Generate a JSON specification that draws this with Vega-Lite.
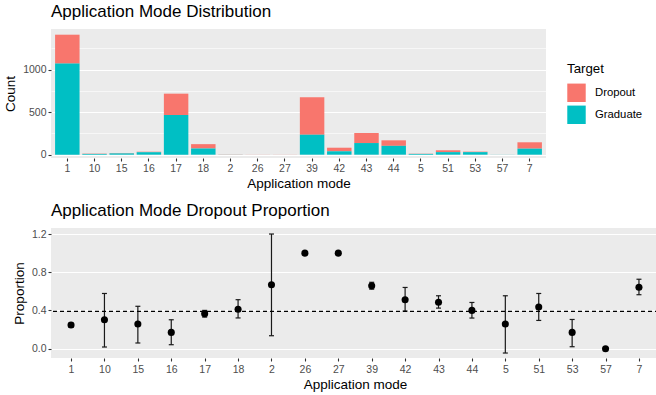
{
  "$schema": "https://vega.github.io/schema/vega-lite/v6.json",
  "padding": {"left": 3, "top": 3, "right": 6, "bottom": 2},
  "background": "white",
  "config": {
    "font": "Liberation Sans",
    "view": {"fill": "#EBEBEB", "stroke": null},
    "axis": {"domain": false, "tickColor": "#333333", "tickSize": 3, "tickWidth": 1.1, "labelColor": "#4D4D4D", "labelFontSize": 10.5, "labelPadding": 2, "titleFontSize": 13.5, "titleFontWeight": "normal", "titleColor": "#000000", "gridColor": "#FFFFFF", "gridWidth": 1.2},
    "title": {"fontSize": 17, "fontWeight": "normal", "color": "#000000", "anchor": "start", "frame": "group", "offset": 8}
  },
  "spacing": 12,
  "resolve": {"scale": {"color": "independent"}, "legend": {"color": "independent"}},
  "datasets": {
    "counts": [
      {"mode": "1", "Target": "Dropout", "count": 340}, {"mode": "1", "Target": "Graduate", "count": 1072},
      {"mode": "10", "Target": "Dropout", "count": 4}, {"mode": "10", "Target": "Graduate", "count": 9},
      {"mode": "15", "Target": "Dropout", "count": 5}, {"mode": "15", "Target": "Graduate", "count": 15},
      {"mode": "16", "Target": "Dropout", "count": 6}, {"mode": "16", "Target": "Graduate", "count": 29},
      {"mode": "17", "Target": "Dropout", "count": 251}, {"mode": "17", "Target": "Graduate", "count": 467},
      {"mode": "18", "Target": "Dropout", "count": 51}, {"mode": "18", "Target": "Graduate", "count": 73},
      {"mode": "2", "Target": "Dropout", "count": 2}, {"mode": "2", "Target": "Graduate", "count": 1},
      {"mode": "26", "Target": "Dropout", "count": 1}, {"mode": "26", "Target": "Graduate", "count": 0},
      {"mode": "27", "Target": "Dropout", "count": 1}, {"mode": "27", "Target": "Graduate", "count": 0},
      {"mode": "39", "Target": "Dropout", "count": 440}, {"mode": "39", "Target": "Graduate", "count": 235},
      {"mode": "42", "Target": "Dropout", "count": 42}, {"mode": "42", "Target": "Graduate", "count": 40},
      {"mode": "43", "Target": "Dropout", "count": 118}, {"mode": "43", "Target": "Graduate", "count": 137},
      {"mode": "44", "Target": "Dropout", "count": 65}, {"mode": "44", "Target": "Graduate", "count": 104},
      {"mode": "5", "Target": "Dropout", "count": 3}, {"mode": "5", "Target": "Graduate", "count": 9},
      {"mode": "51", "Target": "Dropout", "count": 22}, {"mode": "51", "Target": "Graduate", "count": 30},
      {"mode": "53", "Target": "Dropout", "count": 6}, {"mode": "53", "Target": "Graduate", "count": 30},
      {"mode": "57", "Target": "Dropout", "count": 0}, {"mode": "57", "Target": "Graduate", "count": 1},
      {"mode": "7", "Target": "Dropout", "count": 75}, {"mode": "7", "Target": "Graduate", "count": 71}
    ],
    "props": [
      {"mode": "1", "p": 0.248, "lower": 0.226, "upper": 0.27},
      {"mode": "10", "p": 0.303, "lower": 0.018, "upper": 0.578},
      {"mode": "15", "p": 0.258, "lower": 0.06, "upper": 0.444},
      {"mode": "16", "p": 0.171, "lower": 0.042, "upper": 0.303},
      {"mode": "17", "p": 0.366, "lower": 0.331, "upper": 0.401},
      {"mode": "18", "p": 0.413, "lower": 0.322, "upper": 0.513},
      {"mode": "2", "p": 0.669, "lower": 0.136, "upper": 1.2},
      {"mode": "26", "p": 1.0, "lower": 1.0, "upper": 1.0},
      {"mode": "27", "p": 1.0, "lower": 1.0, "upper": 1.0},
      {"mode": "39", "p": 0.659, "lower": 0.623, "upper": 0.695},
      {"mode": "42", "p": 0.513, "lower": 0.394, "upper": 0.641},
      {"mode": "43", "p": 0.486, "lower": 0.425, "upper": 0.554},
      {"mode": "44", "p": 0.401, "lower": 0.321, "upper": 0.484},
      {"mode": "5", "p": 0.258, "lower": -0.045, "upper": 0.554},
      {"mode": "51", "p": 0.436, "lower": 0.296, "upper": 0.578},
      {"mode": "53", "p": 0.171, "lower": 0.021, "upper": 0.306},
      {"mode": "57", "p": 0.0, "lower": 0.0, "upper": 0.0},
      {"mode": "7", "p": 0.643, "lower": 0.565, "upper": 0.727}
    ],
    "overall": [{"overall": 0.391}]
  },
  "vconcat": [
    {
      "width": 495,
      "height": 129,
      "title": "Application Mode Distribution",
      "data": {"name": "counts"},
      "mark": {"type": "bar"},
      "encoding": {
        "x": {
          "field": "mode", "type": "nominal",
          "sort": ["1","10","15","16","17","18","2","26","27","39","42","43","44","5","51","53","57","7"],
          "scale": {"paddingInner": 0.1, "paddingOuter": 0.15},
          "axis": {"title": "Application mode", "labelAngle": 0, "bandPosition": 0.5, "titlePadding": 3}
        },
        "y": {
          "field": "count", "type": "quantitative", "stack": "zero",
          "scale": {"domain": [-39, 1479], "nice": false, "zero": false},
          "axis": {
            "title": "Count", "titlePadding": 5, "format": "d",
            "values": [0, 250, 500, 750, 1000, 1250],
            "labelExpr": "datum.value % 500 === 0 ? datum.label : ''",
            "gridWidth": {"condition": {"test": "datum.value % 500 === 0", "value": 1.2}, "value": 0.6},
            "tickOpacity": {"condition": {"test": "datum.value % 500 === 0", "value": 1}, "value": 0}
          }
        },
        "color": {
          "field": "Target", "type": "nominal",
          "scale": {"domain": ["Dropout", "Graduate"], "range": ["#F8766D", "#00BFC4"]},
          "legend": {
            "orient": "none", "legendX": 516, "legendY": 33,
            "title": "Target", "titleFontSize": 13.3, "titleFontWeight": "normal", "titleColor": "#000000", "titlePadding": 8,
            "labelFontSize": 11.3, "labelColor": "#000000", "labelOffset": 9,
            "symbolType": "square", "symbolSize": 340, "symbolStrokeWidth": 0, "symbolOpacity": 1, "rowPadding": 3
          }
        },
        "order": {"field": "Target", "sort": "descending"}
      }
    },
    {
      "width": 608,
      "height": 130,
      "title": "Application Mode Dropout Proportion",
      "data": {"name": "props"},
      "layer": [
        {
          "mark": {"type": "rule", "color": "#1A1A1A", "strokeWidth": 1.2},
          "encoding": {
            "x": {
              "field": "mode", "type": "nominal",
              "sort": ["1","10","15","16","17","18","2","26","27","39","42","43","44","5","51","53","57","7"],
              "scale": {"type": "point", "padding": 0.6},
              "axis": {"title": "Application mode", "labelAngle": 0, "titlePadding": 3, "labelPadding": 3}
            },
            "y": {
              "field": "lower", "type": "quantitative",
              "scale": {"domain": [-0.097, 1.263], "nice": false, "zero": false},
              "axis": {
                "title": "Proportion", "titlePadding": 5,
                "values": [0, 0.2, 0.4, 0.6, 0.8, 1.0, 1.2],
                "labelExpr": "round(datum.value*10) % 4 === 0 ? format(datum.value, '.1f') : ''",
                "gridWidth": {"condition": {"test": "round(datum.value*10) % 4 === 0", "value": 1.2}, "value": 0.6},
                "tickOpacity": {"condition": {"test": "round(datum.value*10) % 4 === 0", "value": 1}, "value": 0}
              }
            },
            "y2": {"field": "upper"}
          }
        },
        {
          "mark": {"type": "tick", "orient": "horizontal", "size": 5, "thickness": 1.2, "color": "#1A1A1A", "opacity": 1},
          "encoding": {
            "x": {"field": "mode", "type": "nominal", "sort": ["1","10","15","16","17","18","2","26","27","39","42","43","44","5","51","53","57","7"]},
            "y": {"field": "lower", "type": "quantitative"}
          }
        },
        {
          "mark": {"type": "tick", "orient": "horizontal", "size": 5, "thickness": 1.2, "color": "#1A1A1A", "opacity": 1},
          "encoding": {
            "x": {"field": "mode", "type": "nominal", "sort": ["1","10","15","16","17","18","2","26","27","39","42","43","44","5","51","53","57","7"]},
            "y": {"field": "upper", "type": "quantitative"}
          }
        },
        {
          "data": {"name": "overall"},
          "mark": {"type": "rule", "color": "#000000", "strokeWidth": 1.2, "strokeDash": [4, 3]},
          "encoding": {"y": {"field": "overall", "type": "quantitative"}}
        },
        {
          "mark": {"type": "point", "filled": true, "size": 50, "color": "#000000", "opacity": 1},
          "encoding": {
            "x": {"field": "mode", "type": "nominal", "sort": ["1","10","15","16","17","18","2","26","27","39","42","43","44","5","51","53","57","7"]},
            "y": {"field": "p", "type": "quantitative"}
          }
        }
      ]
    }
  ]
}
